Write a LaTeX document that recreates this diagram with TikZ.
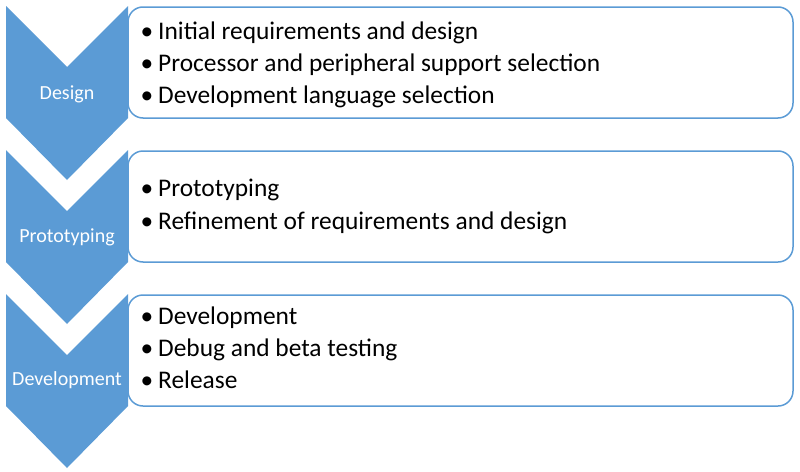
\documentclass[tikz,border=0pt]{standalone}
\usepackage{fontspec}
\setmainfont{Carlito}
\definecolor{accent}{HTML}{5B9BD5}
\tikzset{
  chev/.style={fill=accent, draw=none},
  itembox/.style={draw=accent, line width=1.5pt, fill=white, rounded corners=15pt},
  lbl/.style={text=white, font=\fontsize{20}{24}\selectfont, anchor=base, inner sep=0pt},
  itm/.style={text=black, font=\fontsize{25.4}{30}\selectfont, anchor=base west, inner sep=0pt},
  bul/.style={text=black, font=\fontsize{25.4}{30}\selectfont, anchor=base, inner sep=0pt}
}
\begin{document}
\begin{tikzpicture}[x=1pt,y=-1pt]
\useasboundingbox (0,0) rectangle (800,471);
% boxes
\foreach \k/\t in {1/6,2/150,3/294}{
  \draw[itembox] (128,\t+1) rectangle (793,\t+112);
}
% chevrons
\foreach \k/\t in {1/6,2/150,3/294}{
  \fill[chev] (6,\t) -- (67,\t+61) -- (128,\t) -- (128,\t+112) -- (67,\t+174) -- (6,\t+112) -- cycle;
}
\node[lbl] (l1) at (67,99) {Design};
\node[lbl] (l2) at (67,242) {Prototyping};
\node[lbl] (l3) at (67,385) {Development};
% items
\foreach \y/\txt [count=\i] in {39/Initial requirements and design,71/Processor and peripheral support selection,103/Development language selection,196/Prototyping,229/Refinement of requirements and design,324/Development,356/Debug and beta testing,388/Release}{
  \node[bul] (b\i) at (147,\y) {•};
  \node[itm] (t\i) at (158,\y) {\txt};
}
\end{tikzpicture}
\end{document}
